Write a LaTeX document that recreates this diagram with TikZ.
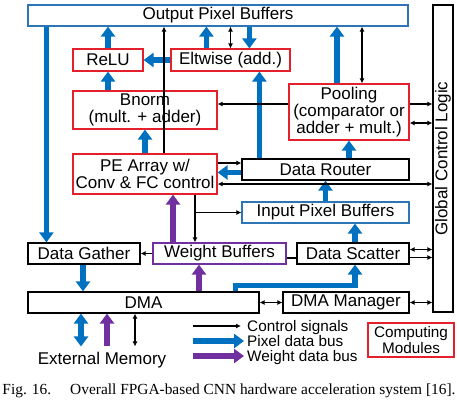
\documentclass[tikz,border=0pt]{standalone}
\usepackage{fontspec}
\setmainfont{Liberation Sans}
\newfontfamily\capfont{Liberation Serif}
\usepackage{tikz}
\usetikzlibrary{arrows.meta}
\definecolor{pixblue}{RGB}{0,112,192}
\definecolor{bufblue}{RGB}{46,117,182}
\definecolor{modred}{RGB}{228,32,44}
\definecolor{wgtpurple}{RGB}{112,48,160}

\begin{document}
\begin{tikzpicture}[x=1pt,y=-1pt,
    font=\fontsize{17}{17}\selectfont,
    box/.style={draw,line width=1.2pt,inner sep=0pt,align=center},
    mod node/.style={box,draw=modred},
    buf node/.style={box,draw=bufblue},
    wgt node/.style={box,draw=wgtpurple},
    legend/.style={inner sep=0pt,align=left,font=\fontsize{15.3}{15}\selectfont},
    ctrl/.style={line width=1.2pt,-{Latex[length=5pt,width=5pt]}},
    ctrl2/.style={line width=1.2pt,{Latex[length=5pt,width=5pt]}-{Latex[length=5pt,width=5pt]}},
    pix/.style={line width=5.5pt,draw=pixblue,-{Triangle[length=10pt,width=14pt]}},
    pix2/.style={pix,{Triangle[length=10pt,width=14pt]}-{Triangle[length=10pt,width=14pt]}},
    wgt/.style={pix,draw=wgtpurple}]
  \useasboundingbox (0,0) rectangle (457,407);

  % blocks
  \node[buf node,minimum width=380pt,minimum height=21pt] (opb) at (218,15.5) {Output Pixel Buffers};
  \node[box,minimum width=20pt,minimum height=307pt] (gcl) at (443,158.5) {};
  \node[rotate=90,inner sep=0pt] (gcllabel) at (gcl.center) {Global Control Logic};
  \node[mod node,minimum width=70pt,minimum height=22pt] (relu) at (108,60) {ReLU};
  \node[mod node,minimum width=119pt,minimum height=22pt] (elt) at (230.5,60) {Eltwise (add.)};
  \node[mod node,minimum width=144pt,minimum height=38pt] (bnorm) at (145,110) {Bnorm\\(mult. + adder)};
  \node[mod node,minimum width=144pt,minimum height=40pt] (pe) at (145,174) {PE Array w/\\Conv \& FC control};
  \node[mod node,minimum width=120pt,minimum height=56pt] (pool) at (349,112) {Pooling\\(comparator or\\adder + mult.)};
  \node[box,minimum width=167pt,minimum height=21pt] (dr) at (325.5,169.5) {Data Router};
  \node[buf node,minimum width=167pt,minimum height=21pt] (ipb) at (325.5,212.5) {Input Pixel Buffers};
  \node[box,minimum width=112pt,minimum height=21pt] (ds) at (353,253.5) {Data Scatter};
  \node[wgt node,minimum width=133pt,minimum height=21pt] (wb) at (219.5,253.5) {Weight Buffers};
  \node[box,minimum width=112pt,minimum height=21pt] (dg) at (84,253.5) {Data Gather};
  \node[box,minimum width=231pt,minimum height=21pt] (dma) at (143.5,302.5) {DMA};
  \node[box,minimum width=126pt,minimum height=21pt] (dmam) at (346,302.5) {DMA Manager};
  \node[inner sep=1pt,anchor=base] (extmem) at (102,364) {External Memory};

  % pixel data bus
  \draw[pix] ([xshift=19pt]opb.south west) -- ([xshift=19pt]opb.south west |- dg.north);
  \draw[pix] (relu.north) -- (relu.north |- opb.south);
  \draw[pix] (relu.north |- bnorm.north) -- (relu.south);
  \draw[pix] (elt.west) -- (relu.east);
  \draw[pix] ([xshift=36pt]elt.north west) -- ([xshift=36pt]elt.north west |- opb.south);
  \draw[pix] ([xshift=79pt]elt.north west |- opb.south) -- ([xshift=79pt]elt.north west);
  \draw[pix] (pe.north) -- (bnorm.south);
  \draw[pix] ([xshift=18pt]dr.north west) -- ([xshift=18pt]dr.north west |- elt.south);
  \draw[pix] ([xshift=-12pt]pool.north) -- ([xshift=-12pt]pool.north |- opb.south);
  \draw[pix] (pool.south |- dr.north) -- (pool.south);
  \draw[pix] ([yshift=-3pt]dr.west) -- ([yshift=-3pt]dr.west -| pe.east);
  \draw[pix] (ipb.north) -- (dr.south);
  \draw[pix] ([xshift=2pt]ds.north) -- ([xshift=2pt]ds.north |- ipb.south);
  \draw[pix] ([xshift=-24pt]dma.north east) -- ++(0,-6) -| ([xshift=2pt]ds.south);
  \draw[pix] ([xshift=-1pt]dg.south) -- ([xshift=-1pt]dg.south |- dma.north);
  \draw[pix2] ([xshift=-21pt]extmem.north |- dma.south) -- ([xshift=-21pt,yshift=4pt]extmem.north);

  % weight data bus
  \draw[wgt] ([xshift=28pt]pe.south |- wb.north) -- ([xshift=28pt]pe.south);
  \draw[wgt] ([xshift=-20.5pt]wb.south |- dma.north) -- ([xshift=-20.5pt]wb.south);
  \draw[wgt] ([xshift=5pt,yshift=4pt]extmem.north) -- ([xshift=5pt]extmem.north |- dma.south);

  % control signals
  \draw[ctrl2] (elt.north) -- (elt.north |- opb.south);
  \draw[ctrl] ([xshift=19pt]pe.north) -- ([xshift=19pt]pe.north |- opb.south);
  \draw[ctrl2] ([xshift=13pt]pool.north) -- ([xshift=13pt]pool.north |- opb.south);
  \draw[ctrl] ([yshift=8pt]pool.west) -- ([yshift=8pt]pool.west -| bnorm.east);
  \draw[ctrl] ([yshift=8pt]pool.east) -- ([yshift=8pt]pool.east -| gcl.west);
  \draw[ctrl2] ([yshift=-11pt]pool.east) -- ([yshift=-11pt]pool.east -| gcl.west);
  \draw[ctrl] ([yshift=6.5pt]dr.west -| pe.east) -- ([yshift=6.5pt]dr.west);
  \draw[ctrl2] ([yshift=-10pt]pe.east) -- ([yshift=-10pt]pe.east -| gcl.west);
  \draw[ctrl] ([xshift=50pt]pe.south) -- ([xshift=50pt]pe.south |- wb.north);
  \draw[ctrl] ([xshift=50pt]pe.south |- ipb.west) -- (ipb.west);
  \draw[ctrl] (wb.west) -- (dg.east);
  \draw[line width=1.2pt] ([yshift=-4.5pt]wb.east) -- ([yshift=-4.5pt]ds.west);
  \draw[ctrl2] ([yshift=4pt]ds.east) -- ([yshift=4pt]ds.east -| gcl.west);
  \draw[ctrl] ([yshift=-4pt]ds.east) -- ([yshift=-4pt]ds.east -| gcl.west);
  \draw[ctrl2] (dma.east) -- (dmam.west);
  \draw[ctrl2] (dmam.east) -- (dmam.east -| gcl.west);
  \draw[ctrl2] ([xshift=33pt]extmem.north |- dma.south) -- ([xshift=33pt,yshift=4pt]extmem.north);

  % legend
  \node[legend,anchor=north west] (lg) at (247,320.3) {Control signals\\Pixel data bus\\Weight data bus};
  \coordinate (lgctrl) at (193,326);
  \coordinate (lgpix) at (193,341);
  \coordinate (lgwgt) at (193,356);
  \draw[ctrl] (lgctrl) -- ([xshift=-6pt]lgctrl -| lg.west);
  \draw[pix] (lgpix) -- ([xshift=-3pt]lgpix -| lg.west);
  \draw[wgt] (lgwgt) -- ([xshift=-3pt]lgwgt -| lg.west);
  \node[mod node,minimum width=86pt,minimum height=34pt,font=\fontsize{15.3}{16}\selectfont] (cm) at (411,340) {Computing\\Modules};

  % caption
  \node[anchor=base,inner sep=0pt,font=\capfont\fontsize{15.4}{16}\selectfont] (caption) at (229,394)
    {Fig. 16.\hspace{19pt}Overall FPGA-based CNN hardware acceleration system [16].};
\end{tikzpicture}
\end{document}
